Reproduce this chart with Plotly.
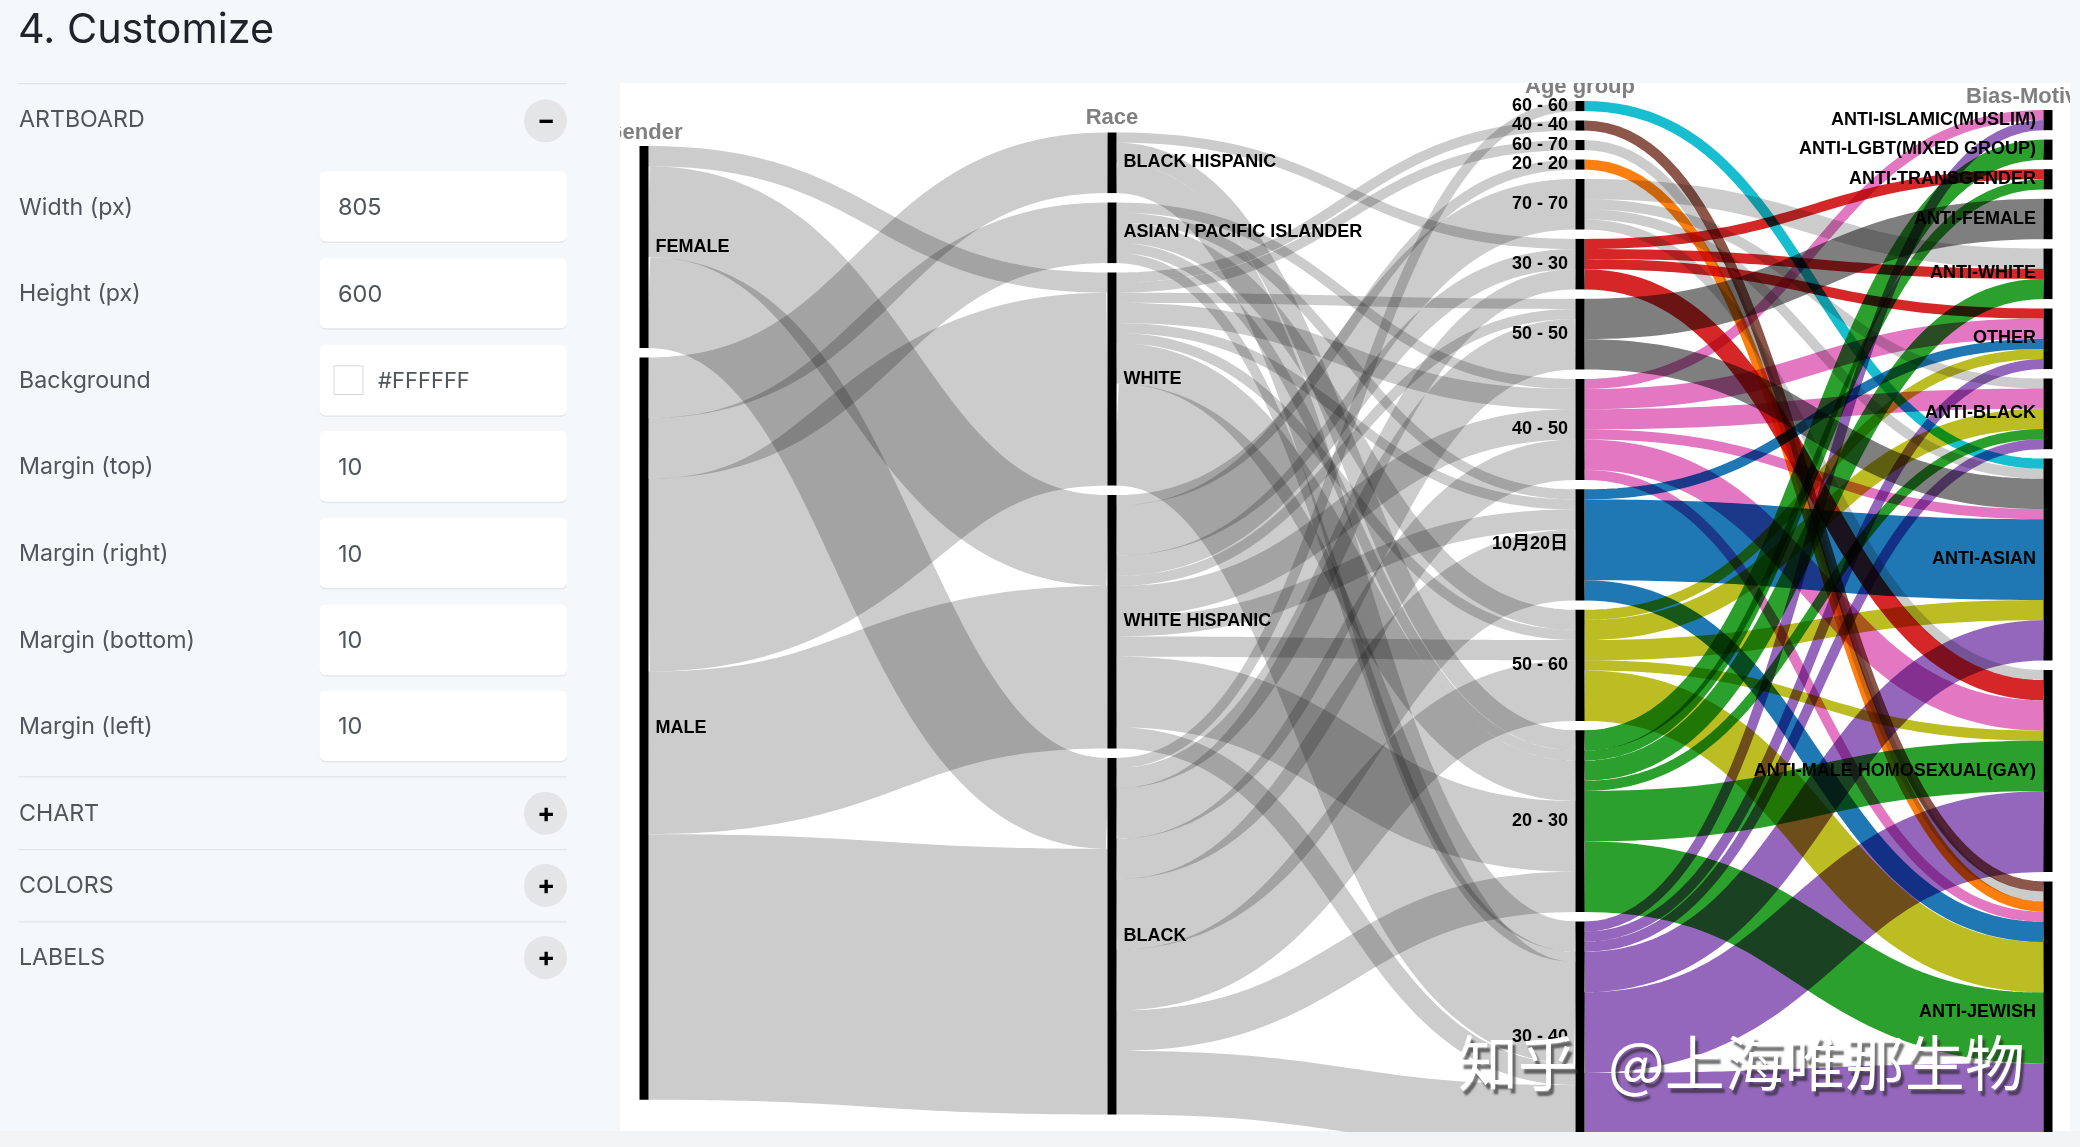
import numpy as np
import plotly.graph_objects as go

# ---------- data ----------
gender_nodes = ["FEMALE", "MALE"]
race_nodes = ["BLACK HISPANIC", "ASIAN / PACIFIC ISLANDER", "WHITE", "WHITE HISPANIC", "BLACK"]
age_nodes = ["60 - 60", "40 - 40", "60 - 70", "20 - 20", "70 - 70", "30 - 30", "50 - 50",
             "40 - 50", "10月20日", "50 - 60", "20 - 30", "30 - 40"]
bias_nodes = ["ANTI-ISLAMIC(MUSLIM)", "ANTI-LGBT(MIXED GROUP)", "ANTI-TRANSGENDER", "ANTI-FEMALE",
              "ANTI-WHITE", "OTHER", "ANTI-BLACK", "ANTI-ASIAN", "ANTI-MALE HOMOSEXUAL(GAY)", "ANTI-JEWISH"]
dimension_titles = ["Gender", "Race", "Age group", "Bias-Motivation"]

female_to_race = [0, 0, 2, 9, 9]
male_to_race = [6, 6, 19.1, 16.1, 26.3]

black_hispanic_to_age = [0, 0, 0, 0, 0, 1, 0, 0, 0, 0, 2, 3]
asian_to_age = [0, 0, 0, 0, 0, 0, 0, 1, 1, 2, 1, 1]
white_to_age = [0, 1, 1, 0, 0, 0, 1, 2, 1, 1, 4, 10.1]
white_hispanic_to_age = [0, 0, 0, 1, 5, 2, 1, 3, 2, 2, 7, 2.1]
black_to_age = [1, 0, 0, 0, 0, 2, 5, 4, 7, 6, 4, 6.3]

age_60_60 = [0, 0, 0, 0, 0, 0, 0, 1, 0, 0]
age_40_40 = [0, 0, 0, 0, 0, 0, 0, 0, 0, 1]
age_60_70 = [0, 0, 0, 0, 0, 0, 0, 0, 0, 1]
age_20_20 = [0, 0, 0, 0, 0, 0, 0, 0, 0, 1]
age_70_70 = [0, 0, 0, 0, 2, 0, 1, 1, 1, 0]
age_30_30 = [0, 0, 1, 0, 1, 1, 0, 0, 2, 0]
age_50_50 = [0, 0, 0, 4, 0, 0, 0, 3, 0, 0]
age_40_50 = [1, 0, 0, 0, 0, 2, 2, 1, 3, 1]
age_10_20 = [0, 0, 0, 0, 0, 1, 0, 8, 0, 2]
age_50_60 = [0, 0, 0, 0, 0, 1, 2, 2, 1, 5]
age_20_30 = [0, 2, 1, 0, 2, 0, 1, 0, 5, 7]
age_30_40 = [1, 0, 0, 0, 0, 1, 1, 4, 8, 8]

age_colors = ["#17becf", "#8c564b", "#cccccc", "#ff7f0e", "#cccccc", "#d62728", "#7f7f7f",
              "#e377c2", "#1f77b4", "#bcbd22", "#2ca02c", "#9467bd"]
GREY = "#cccccc"

# ---------- geometry of the canvas ----------
W, H = 2080, 1147
PLOT_L, PLOT_R, PLOT_T, PLOT_B = 620, 2070, 83, 1132
COL0_PX, COL_STEP_PX = 644.0, 468.0
CENTER_PX = 624.0
K = 10.1             # px per record
GAP = 9.4 / K        # gap between nodes, in records
THICK = 9 / COL_STEP_PX
COLUMN_TOP_PX = [146, 132.5, 101, 110]


def y_of_px(p):
    return (p - CENTER_PX) / K


def x_of_px(p):
    return (p - COL0_PX) / COL_STEP_PX


def stack(sizes, top):
    tops, y = [], top
    for s in sizes:
        tops.append(y)
        y += s + GAP
    return tops


matrices = [
    np.array([female_to_race, male_to_race], float),
    np.array([black_hispanic_to_age, asian_to_age, white_to_age, white_hispanic_to_age, black_to_age], float),
    np.array([age_60_60, age_40_40, age_60_70, age_20_20, age_70_70, age_30_30, age_50_50,
              age_40_50, age_10_20, age_50_60, age_20_30, age_30_40], float),
]
columns = [gender_nodes, race_nodes, age_nodes, bias_nodes]
sizes = [matrices[0].sum(1), matrices[0].sum(0), matrices[2].sum(1), matrices[2].sum(0)]
tops = [stack(list(s), y_of_px(COLUMN_TOP_PX[c])) for c, s in enumerate(sizes)]

fig = go.Figure()

# nodes
for c, names in enumerate(columns):
    fig.add_trace(go.Bar(x=[c] * len(names), y=list(sizes[c]), base=tops[c], width=THICK,
                         marker=dict(color="#000000", line=dict(width=0)), showlegend=False,
                         hoverinfo="skip"))

# links: d3-style stroked ribbons, ordered by the opposite node's position
t = np.linspace(0, 1, 60)
for c, m in enumerate(matrices):
    ns, nt = m.shape
    src_off = [np.concatenate([[0], np.cumsum(m[i, :])]) for i in range(ns)]
    tgt_off = [np.concatenate([[0], np.cumsum(m[:, j])]) for j in range(nt)]
    for i in range(ns):
        for j in range(nt):
            v = m[i, j]
            if v <= 0:
                continue
            y0 = tops[c][i] + src_off[i][j] + v / 2
            y1 = tops[c + 1][j] + tgt_off[j][i] + v / 2
            x0, x1 = c + THICK / 2, c + 1 - THICK / 2
            xm = (x0 + x1) / 2
            xs = (1 - t) ** 3 * x0 + 3 * (1 - t) ** 2 * t * xm + 3 * (1 - t) * t ** 2 * xm + t ** 3 * x1
            ys = (1 - t) ** 3 * y0 + 3 * (1 - t) ** 2 * t * y0 + 3 * (1 - t) * t ** 2 * y1 + t ** 3 * y1
            color = age_colors[i] if c == 2 else GREY
            fig.add_trace(go.Scatter(x=xs, y=ys, mode="lines", showlegend=False, hoverinfo="skip",
                                     line=dict(color=color, width=v * K, simplify=False)))

# node labels
LABEL_FONT = "Liberation Sans, Arial, Noto Sans CJK SC, sans-serif"
for c, names in enumerate(columns):
    left = c >= 2
    centers = [tops[c][i] + sizes[c][i] / 2 for i in range(len(names))]
    fig.add_trace(go.Scatter(x=[c + (-12 if left else 11.5) / COL_STEP_PX] * len(names), y=centers,
                             mode="text", text=names, showlegend=False, hoverinfo="skip",
                             textposition="middle left" if left else "middle right",
                             textfont=dict(family=LABEL_FONT, size=18, color="#000000", weight="bold")))

# dimension titles (clipped by the artboard, like the reference)
title_y = [133, 118.5, 87.5, 97]
fig.add_trace(go.Scatter(x=[0, 1, 2, 3], y=[y_of_px(p) for p in title_y], mode="text",
                         text=dimension_titles, showlegend=False, hoverinfo="skip",
                         textposition="middle center",
                         textfont=dict(family=LABEL_FONT, size=22, color="#808080", weight="bold")))

# ---------- side panel ----------
UI = "Inter, Noto Sans, sans-serif"
shapes, notes = [], []


def px(x):
    return x / W


def py(y):
    return 1 - (y * 1.0025) / H


def text(x, y, s, size=23.2, color="#50555b", anchor="left", weight="normal"):
    notes.append(dict(x=px(x), y=py(y), xref="paper", yref="paper", text=s, showarrow=False,
                      xanchor=anchor, yanchor="middle",
                      font=dict(family=UI, size=size, color=color, weight=weight)))


def rrect(x0, y0, x1, y1, r, fill):
    a, b, c, d = px(x0), py(y0), px(x1), py(y1)
    rx, ry = r / W, r / H
    path = (f"M{a+rx},{b} L{c-rx},{b} Q{c},{b} {c},{b-ry} L{c},{d+ry} Q{c},{d} {c-rx},{d} "
            f"L{a+rx},{d} Q{a},{d} {a},{d+ry} L{a},{b-ry} Q{a},{b} {a+rx},{b} Z")
    shapes.append(dict(type="path", xref="paper", yref="paper", path=path, fillcolor=fill,
                       line=dict(width=0), layer="below"))


def hline(y):
    shapes.append(dict(type="line", xref="paper", yref="paper", x0=px(18), x1=px(567), y0=py(y), y1=py(y),
                       line=dict(color="#e2e5e8", width=1.3), layer="below"))


def circle(cy, glyph):
    shapes.append(dict(type="circle", xref="paper", yref="paper", x0=px(524), x1=px(567),
                       y0=py(cy - 21.5), y1=py(cy + 21.5), fillcolor="#e4e5e6",
                       line=dict(width=0), layer="below"))
    text(545.5, cy - 1, glyph, size=27, color="#000000", anchor="center", weight="bold")


text(16, 27.5, "4. Customize", size=41.4, color="#20242a")
for y in (83.5, 775, 847.5, 919.5):
    hline(y)
text(17, 119, "ARTBOARD")
circle(120.5, "−")
rows = [("Width (px)", "805", 171, 241, 206), ("Height (px)", "600", 257.5, 327.5, 292.5),
        ("Background", "#FFFFFF", 344, 414.5, 379), ("Margin (top)", "10", 430, 500.5, 465),
        ("Margin (right)", "10", 516.5, 586.5, 552), ("Margin (bottom)", "10", 603, 673.5, 638),
        ("Margin (left)", "10", 689, 759, 724)]
for label, value, y0, y1, yc in rows:
    rrect(319.5, y0 + 1.5, 567, y1 + 1.5, 7, "#e3e6ea")
    rrect(319.5, y0, 567, y1, 7, "#ffffff")
    text(17, yc, label)
    if label == "Background":
        shapes.append(dict(type="rect", xref="paper", yref="paper", x0=px(334), x1=px(363), y0=py(365), y1=py(393.5),
                           fillcolor="#ffffff", line=dict(color="#d5d8db", width=1), layer="below"))
        text(376, yc, value, size=22)
    else:
        text(336, yc, value, size=23.5)
for label, y in (("CHART", 810.5), ("COLORS", 882.5), ("LABELS", 954.5)):
    text(17, y, label)
    circle(y + 0.7, "+")

shapes.append(dict(type="rect", xref="paper", yref="paper", x0=0, x1=1, y0=0, y1=1 - 1131 / H,
                   fillcolor="#f3f4f5", line=dict(width=0), layer="below"))

# watermark
notes.append(dict(x=px(1741.5), y=1 - 1059 / H, xref="paper", yref="paper", text="知乎\u2002@上海唯那生物", showarrow=False,
                  xanchor="center", yanchor="middle",
                  font=dict(family="Noto Sans CJK SC, sans-serif", size=60, color="#ffffff",
                            shadow="3px 5px 2px rgba(40,40,40,0.65)")))

fig.update_layout(
    width=W, height=H, autosize=False, margin=dict(l=0, r=0, t=0, b=0, pad=0),
    paper_bgcolor="#f5f8fb", plot_bgcolor="#ffffff", showlegend=False, hovermode=False,
    barmode="overlay", shapes=shapes, annotations=notes,
    xaxis=dict(domain=[PLOT_L / W, PLOT_R / W], range=[x_of_px(PLOT_L), x_of_px(PLOT_R)], visible=False,
               fixedrange=True),
    yaxis=dict(domain=[1 - PLOT_B / H, 1 - PLOT_T / H], range=[y_of_px(PLOT_B), y_of_px(PLOT_T)], visible=False,
               fixedrange=True),
)

post = """
var gd = document.getElementById('{plot_id}');
function blend(){
  document.querySelectorAll('.scatterlayer .trace').forEach(function(t){t.style.mixBlendMode='multiply';});
}
document.documentElement.style.overflow='hidden';
document.body.style.margin='0';
blend();
if (gd.on) gd.on('plotly_afterplot', blend);
"""
fig.write_html("out.html", post_script=post, config=dict(displayModeBar=False))
